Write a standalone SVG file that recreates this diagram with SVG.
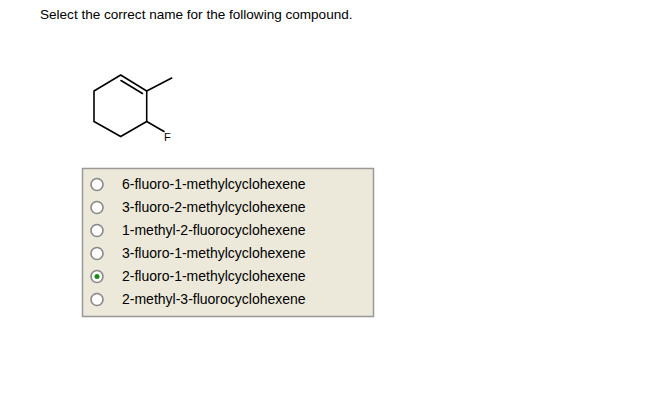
<svg xmlns="http://www.w3.org/2000/svg" width="662" height="419" viewBox="0 0 662 419">
<style>
text{font-family:"Liberation Sans",Arial,sans-serif;font-size:14px;fill:#000}
.b{stroke:#000;stroke-width:1.6;fill:none;stroke-linecap:round}
.r{fill:#fff;stroke:#888;stroke-width:1.6}
</style>
<rect width="662" height="419" fill="#fff"/>
<text x="40" y="19" style="font-size:13.55px">Select the correct name for the following compound.</text>
<g id="molecule">
<polyline class="b" points="120.7,75 146.7,91 146.7,121.5 120.7,136.5 94,121.5 94,91 120.7,75"/>
<line class="b" x1="121" y1="80.5" x2="142.5" y2="93.5"/>
<line class="b" x1="146.7" y1="91" x2="171.7" y2="78"/>
<line class="b" x1="146.7" y1="121.5" x2="164" y2="131.5"/>
<text x="164" y="141" style="font-size:11px">F</text>
</g>
<g id="options">
<rect x="82.5" y="168.5" width="291" height="148" fill="#ece9da" stroke="#999" stroke-width="1.5"/>
<g class="r"><circle cx="97" cy="184.5" r="6"/><circle cx="97" cy="207.5" r="6"/><circle cx="97" cy="230.5" r="6"/><circle cx="97" cy="253.5" r="6"/><circle cx="97" cy="276.5" r="6"/><circle cx="97" cy="299.5" r="6"/></g>
<circle cx="97" cy="276.5" r="2.5" fill="#1a8a1a"/>
<text x="122" y="189">6-fluoro-1-methylcyclohexene</text>
<text x="122" y="212">3-fluoro-2-methylcyclohexene</text>
<text x="122" y="235">1-methyl-2-fluorocyclohexene</text>
<text x="122" y="258">3-fluoro-1-methylcyclohexene</text>
<text x="122" y="281">2-fluoro-1-methylcyclohexene</text>
<text x="122" y="304">2-methyl-3-fluorocyclohexene</text>
</g>
</svg>
